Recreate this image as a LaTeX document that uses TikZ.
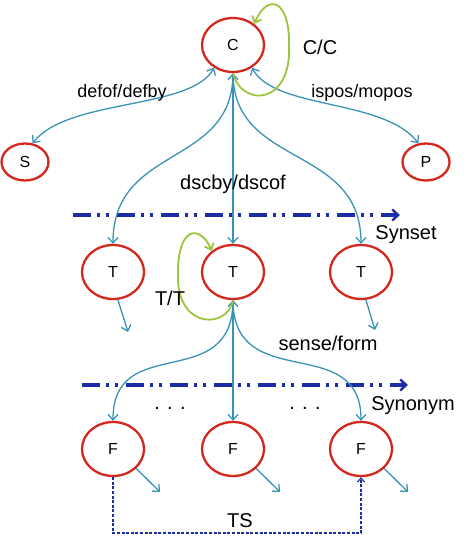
\documentclass[tikz,border=0pt]{standalone}
\usepackage{fontspec}
\setmainfont{Liberation Sans}
\usetikzlibrary{arrows.meta,shapes.geometric}
\definecolor{nred}{RGB}{212,40,30}
\definecolor{tealb}{RGB}{58,146,181}
\definecolor{lgreen}{RGB}{156,196,60}
\definecolor{navyb}{RGB}{28,45,165}
\begin{document}
\begin{tikzpicture}[x=1pt,y=-1pt,
  ent/.style={ellipse, draw=nred, line width=2.3pt, fill=white, minimum width=62pt, minimum height=54pt, inner sep=0pt, font=\fontsize{16}{19}\selectfont},
  smallent/.style={ent, minimum width=47pt, minimum height=37pt},
  rel/.style={draw=tealb, line width=1.3pt, {Straight Barb[length=5.5pt,width=10pt]}-{Straight Barb[length=5.5pt,width=10pt]}},
  one/.style={draw=tealb, line width=1.3pt, -{Straight Barb[length=5.5pt,width=10pt]}},
  loopg/.style={draw=lgreen, line width=1.8pt, -{Straight Barb[length=5.5pt,width=10pt]}},
  level/.style={draw=navyb, line width=3.2pt, dash pattern=on 18pt off 6pt on 3pt off 6pt on 3pt off 8pt, -{Straight Barb[length=6pt,width=11pt,line width=2.4pt]}},
  tsline/.style={draw=navyb, line width=1.2pt, dash pattern=on 3pt off 1.6pt, -{Straight Barb[length=4pt,width=7pt]}},
  lab/.style={font=\fontsize{20}{24}\selectfont, anchor=base, inner sep=0pt},
  slab/.style={font=\fontsize{18}{22}\selectfont, anchor=base, inner sep=0pt}
]
\useasboundingbox (0,0) rectangle (474,540);

% entity nodes
\node[ent] (C) at (233,45) {C};
\node[smallent] (S) at (25,162) {S};
\node[smallent] (P) at (426,162) {P};
\node[ent] (TL) at (113,272) {T};
\node[ent] (TM) at (233,272) {T};
\node[ent] (TR) at (361,272) {T};
\node[ent] (FL) at (113,449) {F};
\node[ent] (FM) at (233,449) {F};
\node[ent] (FR) at (361,449) {F};

% level lines
\coordinate (syA) at (73,215);
\coordinate (syB) at (400,215);
\coordinate (snA) at (82,385);
\coordinate (snB) at (408,385);
\draw[level] (syA) -- (syB);
\draw[level] (snA) -- (snB);

% C relations
\draw[rel] (C.-130) .. controls +(-22,42) and +(35,-45) .. (S.68);
\draw[rel] (C.-50) .. controls +(22,42) and +(-35,-45) .. (P.112);
\draw[one] (C.south) .. controls +(0,95) and +(0,-100) .. (TL.north);
\draw[one] (C.south) .. controls +(0,95) and +(0,-100) .. (TR.north);
\draw[rel] (C.south) -- (TM.north);

% T relations
\draw[one] (TM.south) .. controls +(0,95) and +(0,-90) .. (FL.north);
\draw[one] (TM.south) .. controls +(0,95) and +(0,-90) .. (FR.north);
\draw[rel] (TM.south) -- (FM.north);

% green loops
\coordinate (cr) at (289,45);
\draw[loopg] (C.south) .. controls (242,108) and (292,105) .. (cr)
  .. controls (290,0) and (268,-8) .. (C.45);
\coordinate (tl) at (178,280);
\draw[loopg] (TM.south) .. controls (228,328) and (180,330) .. (tl)
  .. controls (176,225) and (200,224) .. (TM.135);

% small outgoing arrows
\coordinate (oTL) at (128,332);
\coordinate (oTR) at (375,330);
\coordinate (oFL) at (160,492);
\coordinate (oFM) at (280,492);
\coordinate (oFR) at (408,492);
\draw[one] (TL.-80) -- (oTL);
\draw[one] (TR.-80) -- (oTR);
\draw[one] (FL.-40) -- (oFL);
\draw[one] (FM.-40) -- (oFM);
\draw[one] (FR.-40) -- (oFR);

% TS
\coordinate (tsb) at (240,533);
\draw[tsline] (FL.south) |- (tsb) -| (FR.south);

% labels
\node[lab] (lcc) at (320,55) {C/C};
\node[slab] (ldef) at (122,98) {defof/defby};
\node[slab] (lisp) at (362,98) {ispos/mopos};
\node[lab] (ldsc) at (233,189) {dscby/dscof};
\node[lab] (lsyn) at (406,239) {Synset};
\node[lab] (ltt) at (170,305) {T/T};
\node[lab] (lsf) at (328,350) {sense/form};
\node[lab] (lsnm) at (413,410) {Synonym};
\node[lab] (ld1) at (170,409) {. . .};
\node[lab] (ld2) at (305,409) {. . .};
\node[lab] (lts) at (240,527) {TS};
\end{tikzpicture}
\end{document}
